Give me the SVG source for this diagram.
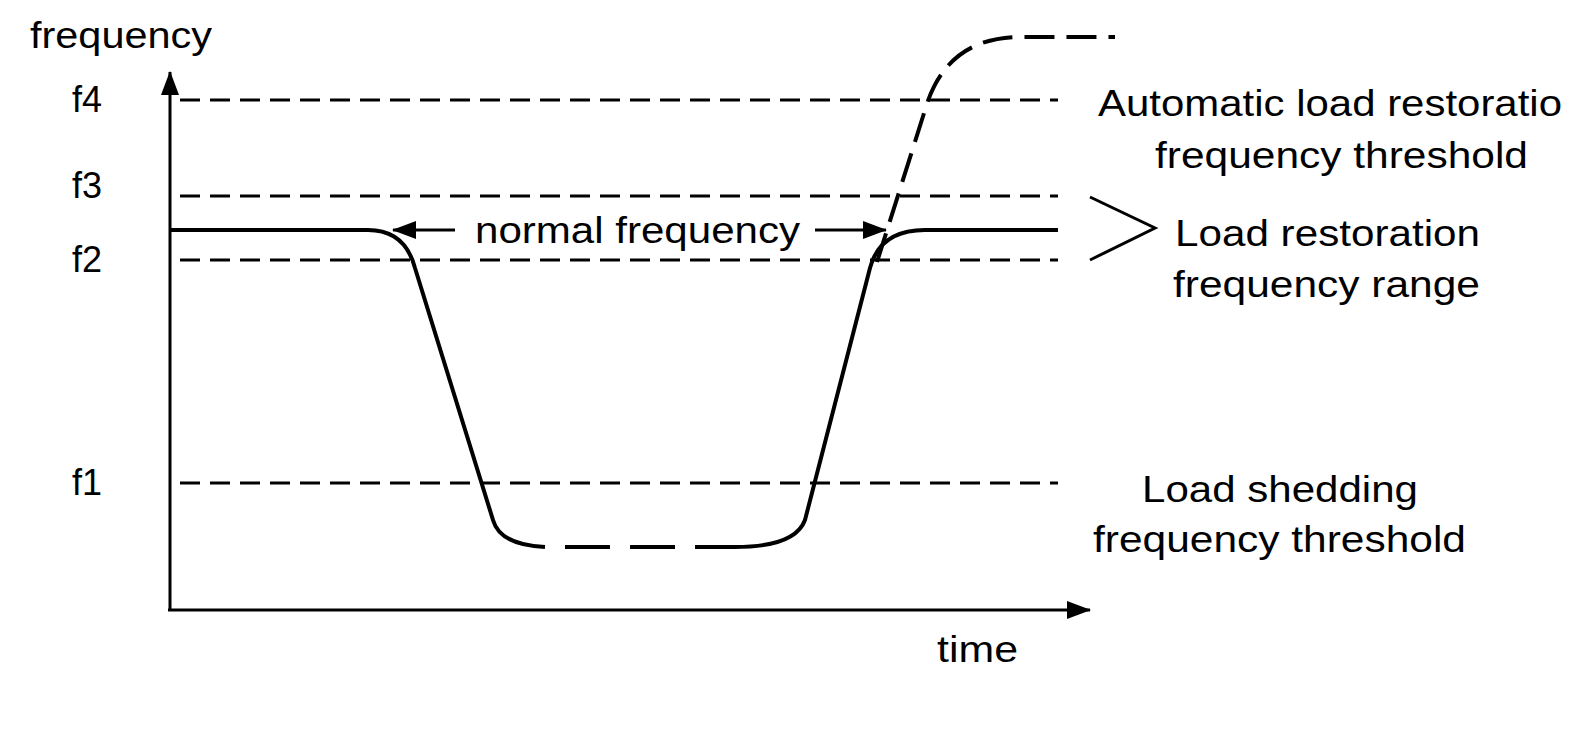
<svg xmlns="http://www.w3.org/2000/svg" width="1592" height="739" viewBox="0 0 1592 739">
<style>
text{font-family:"Liberation Sans",Arial,sans-serif;font-size:36px;fill:#000}
.th{stroke:#000;stroke-width:3;stroke-dasharray:20 10;fill:none}
.ax{stroke:#000;stroke-width:3;fill:none}
.cv{stroke:#000;stroke-width:4;fill:none}
</style>
<defs>
<marker id="big" markerWidth="24" markerHeight="18" refX="23" refY="9" orient="auto" markerUnits="userSpaceOnUse"><path d="M0,0 L24,9 L0,18z" fill="#000"/></marker>
</defs>
<g id="axes">
<line class="ax" x1="170" y1="611" x2="170" y2="72" marker-end="url(#big)"/>
<line class="ax" x1="168" y1="610" x2="1090" y2="610" marker-end="url(#big)"/>
<text x="30" y="48" textLength="182" lengthAdjust="spacingAndGlyphs">frequency</text>
<text x="937" y="662" textLength="81" lengthAdjust="spacingAndGlyphs">time</text>
<text x="72" y="112">f4</text>
<text x="72" y="198">f3</text>
<text x="72" y="272">f2</text>
<text x="72" y="495">f1</text>
</g>
<g id="thresholds">
<line class="th" x1="180" y1="100" x2="1058" y2="100"/>
<line class="th" x1="180" y1="196" x2="1058" y2="196"/>
<line class="th" x1="180" y1="260" x2="1058" y2="260"/>
<line class="th" x1="180" y1="483" x2="1058" y2="483"/>
</g>
<g id="curve">
<path class="cv" d="M170,230 L368,230 Q405,230 415,268 L493,520 Q500,545 545,547"/>
<path class="cv" d="M735,547 Q795,547 805,520 L870,268 Q880,230 925,230 L1058,230"/>
<path class="cv" d="M545,547 L735,547" stroke-dasharray="45 20" stroke-dashoffset="-20"/>
<path class="cv" d="M877,262 L925,110 Q945,40 1015,37 L1115,37" stroke-dasharray="30 12"/>
</g>
<g id="normal">
<line class="ax" x1="455" y1="230" x2="393" y2="230" stroke-width="2.5" marker-end="url(#big)"/>
<text x="475" y="243" textLength="325" lengthAdjust="spacingAndGlyphs">normal frequency</text>
<line class="ax" x1="815" y1="230" x2="886" y2="230" stroke-width="2.5" marker-end="url(#big)"/>
</g>
<g id="labels">
<text x="1098" y="116" textLength="464" lengthAdjust="spacingAndGlyphs">Automatic load restoratio</text>
<text x="1155" y="168" textLength="373" lengthAdjust="spacingAndGlyphs">frequency threshold</text>
<path d="M1090,197 L1155,228 L1090,260" class="ax" stroke-width="2"/>
<text x="1175" y="246" textLength="305" lengthAdjust="spacingAndGlyphs">Load restoration</text>
<text x="1173" y="297" textLength="307" lengthAdjust="spacingAndGlyphs">frequency range</text>
<text x="1142" y="502" textLength="276" lengthAdjust="spacingAndGlyphs">Load shedding</text>
<text x="1093" y="552" textLength="373" lengthAdjust="spacingAndGlyphs">frequency threshold</text>
</g>
</svg>
